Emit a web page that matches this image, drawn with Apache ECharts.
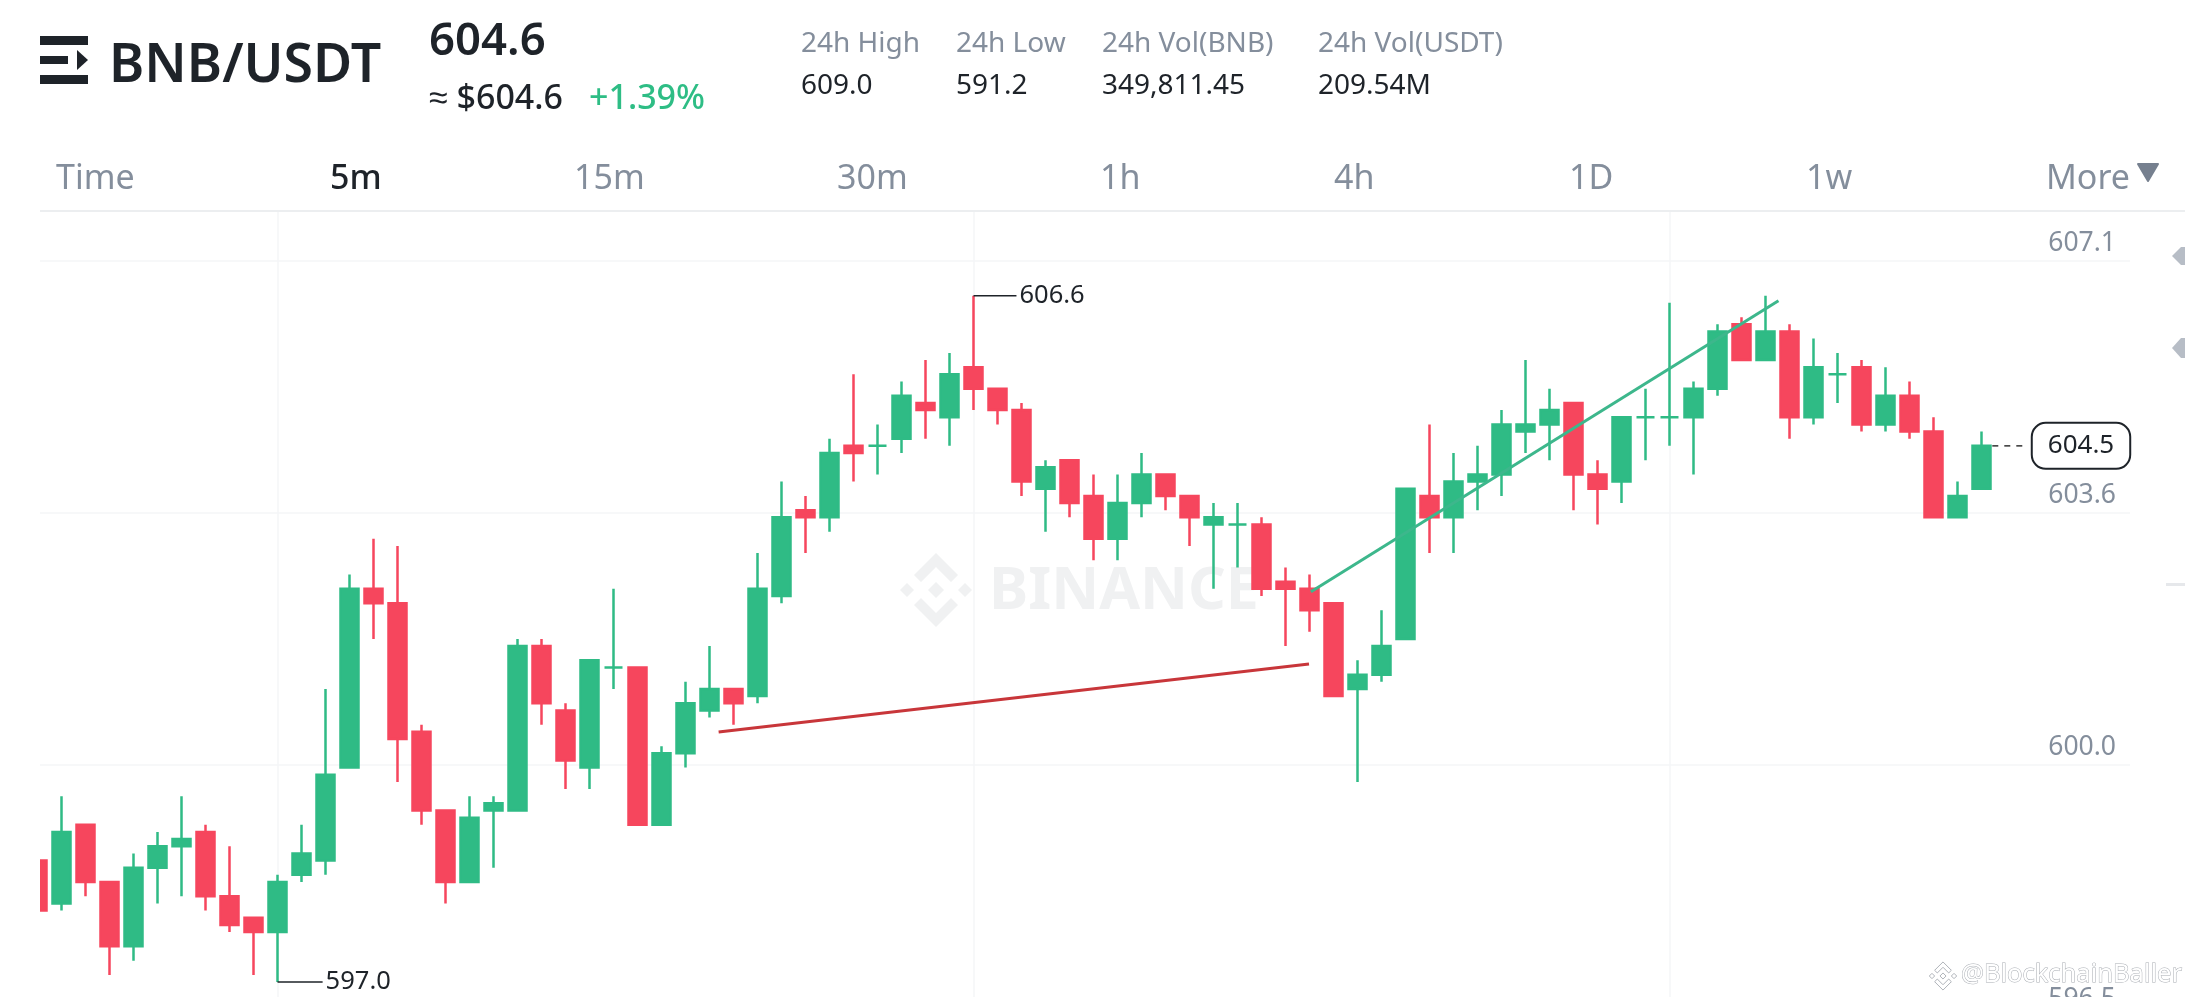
<!DOCTYPE html>
<html><head><meta charset="utf-8">
<style>html,body{margin:0;padding:0;background:#fff;overflow:hidden}#c{width:2185px;height:997px}</style>
<script src="https://cdn.jsdelivr.net/npm/echarts@6/dist/echarts.min.js"></script>
</head><body><div id="c"></div>
<script>
const opens  = [598.7,598.1,599.2,598.4,597.5,598.6,598.9,599.1,598.2,597.9,597.7,598.5,598.7,600.0,602.5,602.3,600.5,599.4,598.4,599.4,599.4,601.7,600.8,600.0,601.4,601.4,599.2,600.2,600.8,601.1,601.0,602.4,603.6,603.5,604.5,604.5,604.6,605.1,604.9,605.6,605.3,605.0,603.9,604.3,603.8,603.2,603.7,604.1,603.8,603.4,603.4,603.4,602.6,602.5,602.3,601.1,601.3,601.8,603.8,603.5,604.0,604.1,604.7,604.8,605.1,604.1,604.0,604.9,604.9,604.9,605.3,606.2,605.7,606.1,604.9,605.5,605.6,604.8,605.2,604.7,603.5,603.9];
const closes = [598.0,599.1,598.4,597.5,598.6,598.9,599.0,598.2,597.8,597.7,598.4,598.8,599.9,602.5,602.3,600.4,599.4,598.4,599.3,599.5,601.7,600.9,600.1,601.5,601.4,599.2,600.2,600.9,601.1,600.9,602.5,603.5,603.5,604.4,604.4,604.5,605.2,605.0,605.5,605.3,605.0,604.0,604.2,603.7,603.2,603.7,604.1,603.8,603.5,603.5,603.4,602.5,602.5,602.2,601.0,601.3,601.7,603.9,603.5,604.0,604.1,604.8,604.8,605.0,604.1,603.9,604.9,604.9,604.9,605.3,606.1,605.7,606.1,604.9,605.6,605.5,604.8,605.2,604.7,603.5,603.8,604.5];
const lows   = [598.0,598.0,598.2,597.1,597.3,598.1,598.2,598.0,597.7,597.1,597.0,598.4,598.5,600.0,601.8,599.8,599.2,598.1,598.4,598.6,599.4,600.6,599.7,599.7,601.1,599.2,599.2,600.0,600.7,600.6,600.9,602.3,603.0,603.3,604.0,604.1,604.4,604.6,604.5,605.0,604.8,603.8,603.3,603.5,602.9,602.9,603.5,603.6,603.1,602.5,602.8,602.4,601.7,601.9,601.0,599.8,601.2,601.8,603.0,603.0,603.6,603.8,604.4,604.3,603.6,603.4,603.7,604.3,604.5,604.1,605.2,605.7,605.7,604.6,604.8,605.1,604.7,604.7,604.6,603.5,603.5,603.9];
const highs  = [598.7,599.6,599.2,598.4,598.8,599.1,599.6,599.2,598.9,597.9,598.5,599.2,601.1,602.7,603.2,603.1,600.6,599.4,599.6,599.6,601.8,601.8,600.9,601.5,602.5,601.4,600.3,601.2,601.7,601.1,603.0,604.0,603.8,604.6,605.5,604.8,605.4,605.7,605.8,606.6,605.3,605.1,604.3,604.3,604.1,604.1,604.4,604.1,603.8,603.7,603.7,603.5,602.8,602.7,602.3,601.5,602.2,603.9,604.8,604.4,604.5,605.0,605.7,605.3,605.1,604.3,604.9,605.3,606.5,605.4,606.2,606.3,606.6,606.2,606.0,605.8,605.7,605.6,605.4,604.9,604.0,604.7];
const candleIndex = opens.map((_, i) => i);
const candleRows = candleIndex.map(i => [i, opens[i], closes[i], lows[i], highs[i]]);

const priceTicks = [607.085, 603.56, 600.035, 596.51];
const timeGridCandles = [10, 39, 68];
const highMark = [[39, 606.6], [40.79, 606.6]];
const lowMark = [[10, 597.0], [11.88, 597.0]];
const lastPriceGuide = [[81.45, 604.5], [82.72, 604.5]];
const supportLine = [[28.38, 600.497], [52.98, 601.448]];
const riseLine = [[53.06, 602.46], [72.54, 606.53]];

const symbolName = 'BNB/USDT';
const lastPrice = '604.6';
const fiatPrice = '≈ $604.6';
const changePct = '+1.39%';
const statLabels = ['24h High', '24h Low', '24h Vol(BNB)', '24h Vol(USDT)'];
const statValues = ['609.0', '591.2', '349,811.45', '209.54M'];
const tabLabels = ['Time', '5m', '15m', '30m', '1h', '4h', '1D', '1w', 'More'];
const watermark = 'BINANCE';
const credit = '@BlockchainBaller';

const GREEN = '#2FBB85', RED = '#F6465D', INK = '#1E2329', GREY = '#848E9C', FONT = '"Noto Sans", sans-serif';
const statX = [801, 956, 1102, 1318];
const tabX = [56, 330, 574, 837, 1100, 1334, 1569, 1806, 2046];

function txt(text, x, y, size, fill, weight) {
  return { type: 'text', x, y, silent: true, z: 5,
    style: { text, fill, font: `${weight || 400} ${size}px ${FONT}`, textVerticalAlign: 'middle', textAlign: 'left' } };
}
function poly(points, fill, z) { return { type: 'polygon', silent: true, z: z == null ? 5 : z, shape: { points }, style: { fill } }; }
function rect(x, y, w, h, fill, z) { return { type: 'rect', silent: true, z: z == null ? 5 : z, shape: { x, y, width: w, height: h }, style: { fill } }; }
function chevronLogo(cx, cy, s, style, z) {
  const pts = {
    top: [[0,-37],[22,-15],[15,-8],[0,-23],[-15,-8],[-22,-15]],
    bottom: [[0,37],[22,15],[15,8],[0,23],[-15,8],[-22,15]],
    mid: [[0,-8],[8,0],[0,8],[-8,0]],
    left: [[-29,-7],[-22,0],[-29,7],[-36,0]],
    right: [[29,-7],[36,0],[29,7],[22,0]]
  };
  return Object.keys(pts).map(k => ({ type: 'polygon', silent: true, z, shape: { points: pts[k].map(p => [cx + p[0]*s, cy + p[1]*s]) }, style }));
}

const graphics = [
  rect(40, 36, 48, 9, INK), rect(40, 56, 28, 8, INK), poly([[77,50],[88,60],[77,70]], INK), rect(40, 75, 48, 9, INK),
  txt(symbolName, 109, 67, 53.6, INK, 600),
  txt(lastPrice, 429, 42, 45.5, INK, 600),
  txt(fiatPrice, 429, 99, 34, INK, 500),
  txt(changePct, 589, 99, 34, '#2EBD85', 500),
  rect(40, 210, 2145, 2, '#ECEEF0'),
  rect(0, 212, 40, 785, '#fff', 10),
  poly([[2172,256],[2181,247],[2185,247],[2185,265],[2181,265]], '#B7BDC6'),
  poly([[2172,348],[2181,338],[2185,338],[2185,358],[2181,358]], '#B7BDC6'),
  rect(2166, 583, 19, 3, '#E6E8EB'),
  { type: 'polygon', silent: true, z: 5, shape: { points: [[2138,164],[2158,164],[2148,181]] }, style: { fill: '#76808F', stroke: '#76808F', lineWidth: 2, lineJoin: 'round' } },
  ...chevronLogo(936, 590, 1, { fill: '#F0F1F2' }, -1),
  { type: 'text', x: 989, y: 592, silent: true, z: -1, style: { text: watermark, font: `700 59px ${FONT}`, fill: '#F0F1F2', textVerticalAlign: 'middle' } },
  ...chevronLogo(1943, 976, 0.38, { fill: '#fff', stroke: '#B0B4BA', lineWidth: 1 }, 6),
  { type: 'text', x: 1961, y: 975, silent: true, z: 6, style: { text: credit, font: `400 25.5px ${FONT}`, fill: '#fff', stroke: '#A9ADB3', lineWidth: 1, textVerticalAlign: 'middle' } }
];
statLabels.forEach((t, i) => graphics.push(txt(t, statX[i], 44, 28, GREY, 400)));
statValues.forEach((t, i) => graphics.push(txt(t, statX[i], 86, 28, INK, 400)));
tabLabels.forEach((t, i) => graphics.push(txt(t, tabX[i], 179, 34, i === 1 ? INK : GREY, i === 1 ? 500 : 400)));

function guide(name, data, color, width, extra) {
  return Object.assign({ name, type: 'line', data, showSymbol: false, symbol: 'none', silent: true, animation: false, z: 4,
    lineStyle: { color, width }, itemStyle: { color } }, extra || {});
}
function endText(text) {
  return { endLabel: { show: true, formatter: text, distance: 3, color: INK, fontSize: 25.5, fontFamily: FONT } };
}

const chart = echarts.init(document.getElementById('c'), null, { renderer: 'canvas' });
chart.setOption({
  animation: false,
  backgroundColor: '#fff',
  graphic: graphics,
  grid: { left: 40, width: 2090, top: 212, height: 828, containLabel: false, outerBoundsMode: 'none' },
  xAxis: { type: 'value', min: 0.104, max: 87.188, show: false, splitLine: { show: false } },
  yAxis: {
    type: 'value', position: 'right', min: 596.19, max: 607.771, scale: true,
    axisLine: { show: false },
    axisTick: { show: false, customValues: priceTicks },
    splitLine: { show: true, customValues: priceTicks, lineStyle: { color: '#F5F6F7', width: 1.5 } },
    axisLabel: { show: true, inside: true, customValues: priceTicks, margin: 14, color: GREY, fontSize: 26.5, fontFamily: FONT,
      verticalAlign: 'bottom', lineHeight: 36, formatter: v => v.toFixed(1) }
  },
  series: [
    { name: 'BNB/USDT', type: 'candlestick', data: candleRows, barWidth: 18.5, z: 3,
      itemStyle: { color: GREEN, color0: RED, borderColor: GREEN, borderColor0: RED, borderColorDoji: GREEN, borderWidth: 2.5 } },
    guide('Time grid', [], '#F5F6F7', 1, { z: 1, markLine: { silent: true, z: 1, symbol: 'none', animation: false, label: { show: false },
      lineStyle: { color: '#F5F6F7', width: 1.5, type: 'solid' }, data: timeGridCandles.map(x => ({ xAxis: x })) } }),
    guide('Support', supportLine, '#C8363A', 3),
    guide('Rise', riseLine, '#3DB78C', 3),
    guide('High', highMark, INK, 1.5, endText('606.6')),
    guide('Low', lowMark, INK, 1.5, endText('597.0')),
    guide('Last', lastPriceGuide, '#333', 1.5, { lineStyle: { color: '#333', width: 1.5, type: [6, 6] },
      endLabel: { show: true, distance: 10, formatter: '604.5', color: INK, fontSize: 26, fontFamily: FONT, backgroundColor: '#fff',
        borderColor: INK, borderWidth: 2, borderRadius: 13, padding: [9, 15, 9, 15] } })
  ]
});
</script></body></html>
